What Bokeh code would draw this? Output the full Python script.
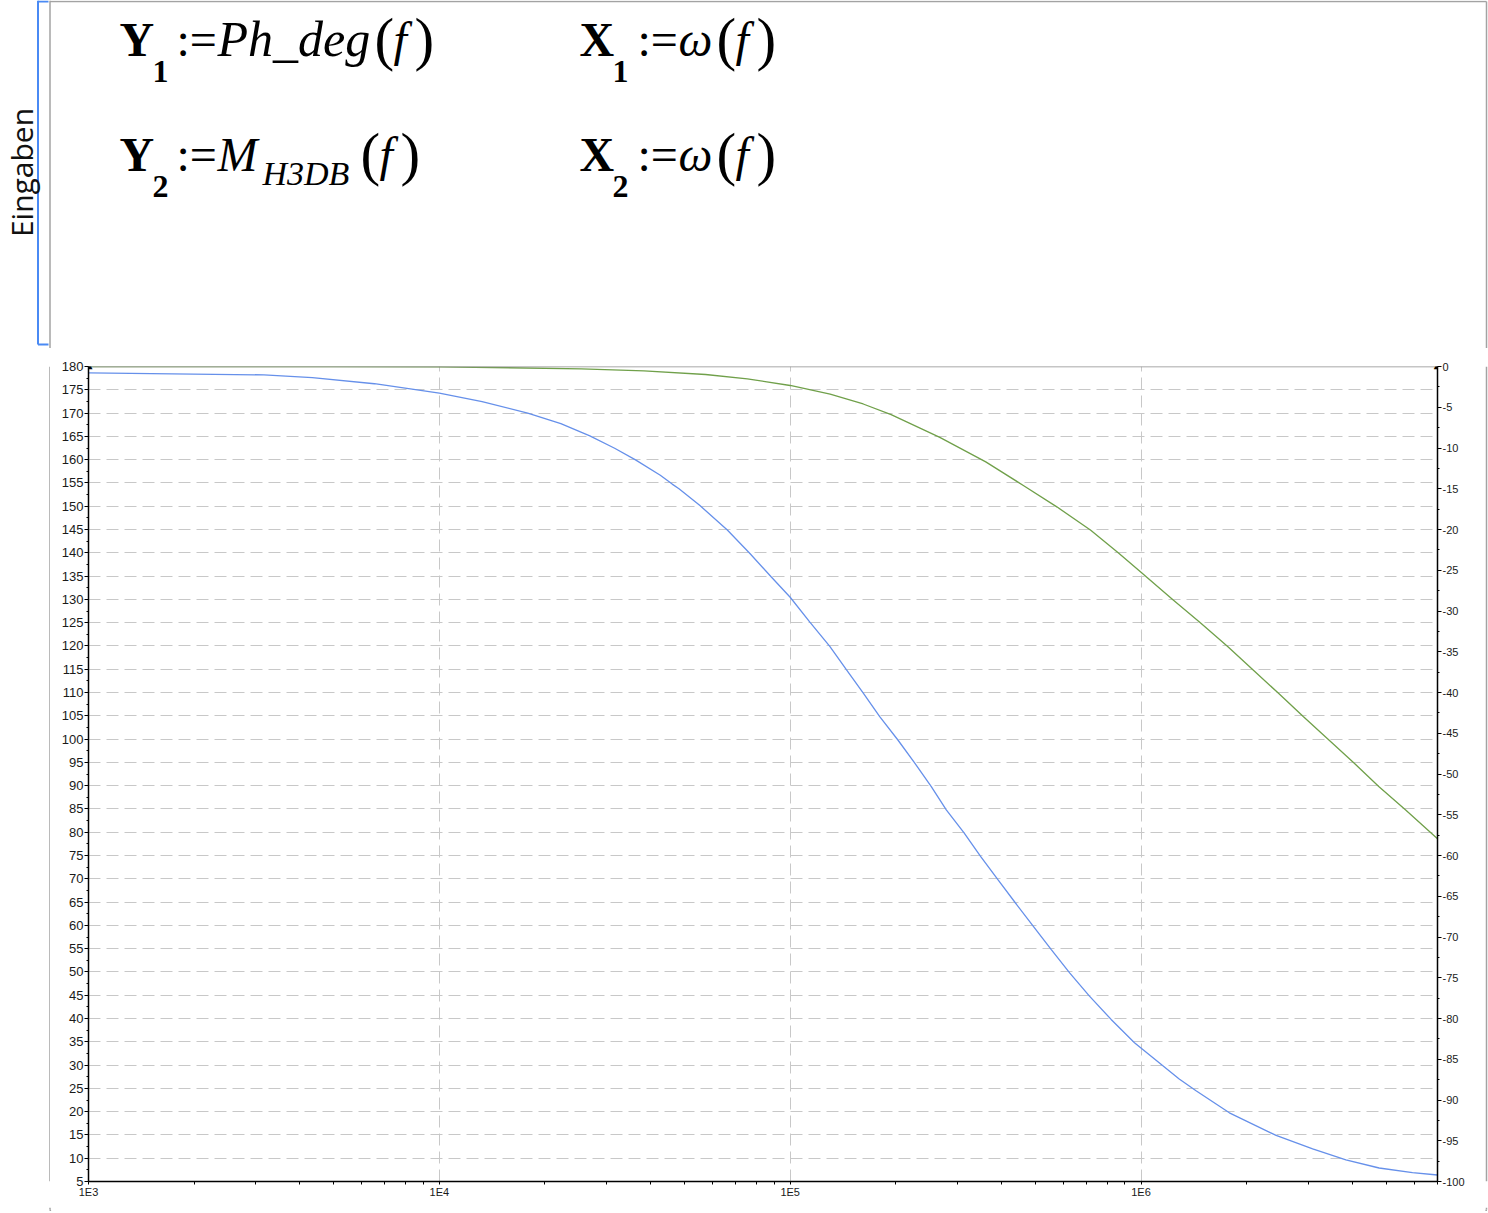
import numpy as np
from bokeh.plotting import figure
from bokeh.models import (Range1d, LinearAxis, SingleIntervalTicker, FixedTicker,
                          PrintfTickFormatter, CustomJSTickFormatter, Span, Label)
from bokeh.layouts import row, column
from bokeh.core.properties import value
from bokeh.embed import file_html
from bokeh.resources import INLINE

# ---------------- data ----------------
omega_phase = [1000, 3162, 4345, 6531, 10000, 13240, 17860, 22200, 26850, 31600,
               36240, 42640, 46100, 48200, 55200, 66200, 76900, 88100, 100000, 113800,
               129700, 144600, 161400, 180000, 202800, 226300, 252500, 278600,
               312700, 348900, 390900, 438700, 494000, 555000, 626000, 713000,
               822000, 958000, 1285000, 1435000, 1786000, 2427000, 3085000,
               3837000, 4773000, 5940000, 7000000]
phase_deg = [178.65, 178.2, 177.6, 176.3, 174.27, 172.45, 170.0, 167.75, 165.1, 162.45,
             159.95, 156.65, 154.75, 153.75, 150.2, 144.9, 139.8, 134.9, 130.45, 125.1,
             119.9, 114.9, 109.9, 104.8, 99.8, 94.9, 89.8, 84.8,
             79.9, 74.8, 69.8, 64.8, 59.75, 54.8, 49.8, 44.8,
             39.8, 34.8, 27.0, 24.5, 19.75, 14.9, 12.0,
             9.65, 7.9, 6.9, 6.4]

omega_mag = [1000, 5000, 10000, 25400, 38300, 57400, 75500, 100000, 130000, 161500,
             194000, 267000, 361000, 462000, 577000, 719000, 861000, 1000000,
             1233000, 1476000, 1766000, 2084000, 2457000, 2900000, 3420000,
             4040000, 4760000, 5670000, 7000000]
mag_db = [0.0, -0.01, -0.03, -0.28, -0.53, -0.98, -1.51, -2.33, -3.4, -4.6,
          -5.9, -8.7, -11.7, -14.6, -17.25, -20.1, -22.85, -25.24,
          -28.63, -31.45, -34.36, -37.21, -40.04, -42.94, -45.77,
          -48.63, -51.53, -54.39, -57.95]

x_major_ticks = [1e3, 1e4, 1e5, 1e6]
x_tick_labels = ["1E3", "1E4", "1E5", "1E6"]
x_minor_ticks = [2e3, 3e3, 4e3, 5e3, 6e3, 7e3, 8e3, 9e3,
                 2e4, 3e4, 4e4, 5e4, 6e4, 7e4, 8e4, 9e4,
                 2e5, 3e5, 4e5, 5e5, 6e5, 7e5, 8e5, 9e5,
                 2e6, 3e6, 4e6, 5e6, 6e6, 7e6]
x_limits = (1e3, 7e6)
phase_limits = (5, 180)
db_limits = (-100, 0)

# ---------------- styles ----------------
BLUE = "#6690ea"
GREEN = "#70a04a"
FRAME = "#a3a3a3"
BRACKET = "#4a8af4"
GRID = "#c8c8c8"
SERIF = "Liberation Serif"
DY = 0.39  # baseline correction, in em

W = 1488
H_HEAD = 348
H_CHART = 855
H_BOT = 8
LEFT_W = 50
RIGHT_W = 4
CHART_W = W - LEFT_W - RIGHT_W


def blank(w, h):
    f = figure(width=w, height=h, x_range=Range1d(0, w), y_range=Range1d(0, h),
               x_axis_location=None, y_axis_location=None, toolbar_location=None,
               output_backend="svg", min_border=0, outline_line_color=None)
    f.grid.visible = False
    f.background_fill_color = "white"
    f.border_fill_color = "white"
    return f


# ---------------- header ----------------
hdr = blank(W, H_HEAD)
# outer frame (top, left, right)
hdr.segment(x0=[49.5, 49.5, 1486], y0=[H_HEAD - 1, 0, 0],
            x1=[1486, 49.5, 1486], y1=[H_HEAD - 1, H_HEAD, H_HEAD - 1],
            line_color=FRAME, line_width=1.5)
# blue region bracket
hdr.segment(x0=[37.5, 37.5, 37.5], y0=[4, H_HEAD - 1, 4],
            x1=[37.5, 48, 48], y1=[H_HEAD, H_HEAD - 1, 4],
            line_color=BRACKET, line_width=2)
hdr.text(x=[21], y=[176], text=["Eingaben"], angle=np.pi / 2,
         text_align="center", text_baseline="middle",
         text_font=value("Open Sans"), text_font_size=value("30px"), text_color="#111111")


def t(x, y, s, size, style="normal"):
    hdr.text(x=[x], y=[y + DY * size], text=[s], text_align="left",
             text_baseline="alphabetic",
             text_font=value(SERIF), text_font_size=value(f"{size}px"),
             text_font_style=style, text_color="black")


def fparen(x_open, base):
    t(x_open, base - 4, "(", 59)
    t(x_open + 19, base, "f", 48, "italic")
    t(x_open + 40, base - 4, ")", 59)


B1, S1 = 290, 265
B2, S2 = 175, 150
# Y1 := Ph_deg(f)
t(119, B1, "Y", 48, "bold")
t(152, S1, "1", 32, "bold")
t(176, B1, ":=", 48)
t(217, B1, "Ph_deg", 50, "italic")
fparen(374, B1)
# Y2 := M_H3DB(f)
t(119, B2, "Y", 48, "bold")
t(152, S2, "2", 32, "bold")
t(176, B2, ":=", 48)
t(217, B2, "M", 48, "italic")
t(262, B2 - 13, "H3DB", 34, "italic")
fparen(360, B2)
# X1 := w(f), X2 := w(f)
for base, sub, d in [(B1, S1, "1"), (B2, S2, "2")]:
    t(579, base, "X", 48, "bold")
    t(612, sub, d, 32, "bold")
    t(637, base, ":=", 48)
    t(678, base, "ω", 48, "italic")
    fparen(716, base)

# ---------------- chart ----------------
ch = figure(width=CHART_W, height=H_CHART, x_axis_type="log",
            x_range=Range1d(*x_limits), y_range=Range1d(*phase_limits),
            toolbar_location=None, output_backend="svg",
            min_border_left=38, min_border_right=47, min_border_top=18,
            min_border_bottom=22, outline_line_color=None)
ch.background_fill_color = "white"
ch.border_fill_color = "white"
ch.extra_y_ranges = {"db": Range1d(*db_limits)}

xt = FixedTicker(ticks=x_major_ticks, minor_ticks=x_minor_ticks)
yt = SingleIntervalTicker(interval=5, num_minor_ticks=2)
rt = SingleIntervalTicker(interval=5, num_minor_ticks=2)

ch.xaxis.ticker = xt
ch.xaxis.formatter = CustomJSTickFormatter(
    args=dict(majors=x_major_ticks, labs=x_tick_labels),
    code="""
    for (let i = 0; i < majors.length; i++) {
        if (Math.abs(Math.log10(tick) - Math.log10(majors[i])) < 1e-6) return labs[i];
    }
    return "";
    """)
ch.yaxis.ticker = yt
ch.yaxis.formatter = PrintfTickFormatter(format="%d")

right = LinearAxis(y_range_name="db", ticker=rt, formatter=PrintfTickFormatter(format="%d"))
ch.add_layout(right, "right")

for ax in [ch.xaxis[0], ch.yaxis[0], right]:
    ax.axis_line_color = "black"
    ax.axis_line_width = 1.5
    ax.major_tick_line_color = "black"
    ax.minor_tick_line_color = "black"
    ax.major_tick_in = 0
    ax.minor_tick_in = 0
    ax.major_tick_line_width = 1
    ax.minor_tick_line_width = 1
    ax.major_label_text_font = "Liberation Sans"
    ax.major_label_text_color = "#1a1a1a"

ch.yaxis.major_tick_out = 4
ch.yaxis.minor_tick_out = 2
ch.yaxis.major_label_standoff = 1
ch.yaxis.major_label_text_font_size = "13px"

right.major_tick_out = 4
right.minor_tick_out = 2
right.major_label_standoff = 1
right.major_label_text_font_size = "11px"

ch.xaxis.major_tick_out = 3
ch.xaxis.minor_tick_out = 3
ch.xaxis.major_label_standoff = 1
ch.xaxis.major_label_text_font_size = "11px"

ch.xgrid.ticker = xt
ch.ygrid.ticker = yt
for g in [ch.xgrid[0], ch.ygrid[0]]:
    g.grid_line_color = GRID
    g.grid_line_dash = "12 6"
    g.grid_line_width = 1

ch.add_layout(Span(location=phase_limits[1], dimension="width",
                   line_color="#8c8c8c", line_width=1.5))

ch.line(omega_mag, mag_db, y_range_name="db", line_color=GREEN, line_width=1.3)
ch.line(omega_phase, phase_deg, line_color=BLUE, line_width=1.3)

for xa in [x_limits[0], x_limits[1]]:
    ch.add_layout(Label(x=xa, y=phase_limits[1], text="▲", text_align="center",
                        text_baseline="alphabetic", y_offset=2,
                        text_font="DejaVu Sans", text_font_size="10px",
                        text_color="black"))

# ---------------- frame strips ----------------
lft = blank(LEFT_W, H_CHART)
lft.segment(x0=[49.5], y0=[0], x1=[49.5], y1=[H_CHART], line_color=FRAME, line_width=1.5)
rgt = blank(RIGHT_W, H_CHART)
rgt.segment(x0=[2], y0=[0], x1=[2], y1=[H_CHART], line_color=FRAME, line_width=1.5)
bot = blank(W, H_BOT)
bot.segment(x0=[52, 49.5, 1486], y0=[3, 6, 6], x1=[1483, 49.5, 1486], y1=[3, H_BOT, H_BOT],
            line_color=FRAME, line_width=1.5)
bot.line(x=[49.5, 50.2, 52], y=[6, 3.8, 3], line_color=FRAME, line_width=1.5)
bot.line(x=[1486, 1485.3, 1483], y=[6, 3.8, 3], line_color=FRAME, line_width=1.5)

layout = column(hdr, row(lft, ch, rgt), bot)

open("out.html", "w").write(file_html(layout, INLINE))
